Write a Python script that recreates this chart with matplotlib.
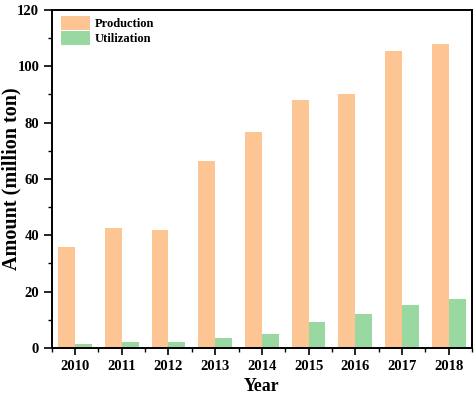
import matplotlib
matplotlib.use("Agg")
import matplotlib.pyplot as plt
import numpy as np
from matplotlib.ticker import MultipleLocator

years = ["2010", "2011", "2012", "2013", "2014", "2015", "2016", "2017", "2018"]
production = [36.0, 42.6, 41.7, 66.5, 76.8, 88.1, 90.1, 105.3, 107.9]
utilization = [1.4, 2.1, 2.1, 3.7, 4.9, 9.1, 12.0, 15.4, 17.3]

plt.rcParams['font.family'] = ['Liberation Serif', 'DejaVu Serif']
plt.rcParams['font.weight'] = 'bold'

fig = plt.figure(figsize=(4.74, 3.95), dpi=100)
ax = fig.add_axes([0.109, 0.119, 0.887, 0.856])

x = np.arange(len(years))
w = 0.36
ax.bar(x - w / 2, production, width=w, color='#FDC593', label='Production')
ax.bar(x + w / 2, utilization, width=w, color='#99D8A0', label='Utilization')

ax.set_xlim(-0.5, len(years) - 0.5)
ax.set_ylim(0, 120)
ax.set_xticks(x)
ax.set_xticklabels(years, fontsize=10.5, fontweight='bold')
ax.xaxis.set_minor_locator(MultipleLocator(1, offset=0.5))
ax.yaxis.set_major_locator(MultipleLocator(20))
ax.yaxis.set_minor_locator(MultipleLocator(10))
for lab in ax.get_yticklabels():
    lab.set_fontsize(10.5)
    lab.set_fontweight('bold')

ax.tick_params(axis='y', which='major', direction='out', length=6, width=1.2, pad=3)
ax.tick_params(axis='y', which='minor', direction='out', length=3, width=1.0)
ax.tick_params(axis='x', which='major', direction='out', length=5, width=1.2, pad=4)
ax.tick_params(axis='x', which='minor', direction='out', length=3, width=1.0)
ax.tick_params(top=False, right=False, which='both')
for s in ax.spines.values():
    s.set_linewidth(1.4)

ax.set_xlabel('Year', fontsize=12.8, fontweight='bold')
ax.xaxis.set_label_coords(0.5, -0.088)
ax.set_ylabel('Amount (million ton)', fontsize=14.5, fontweight='bold')
ax.yaxis.set_label_coords(-0.072, 0.5)

ax.legend(loc='upper left', frameon=False, prop={'size': 9, 'weight': 'bold'},
          handlelength=2.3, handleheight=1.35, handletextpad=0.4, labelspacing=0.12,
          borderaxespad=0.0, borderpad=0.0, bbox_to_anchor=(0.023, 0.983))

fig.savefig('out.png', dpi=100)
